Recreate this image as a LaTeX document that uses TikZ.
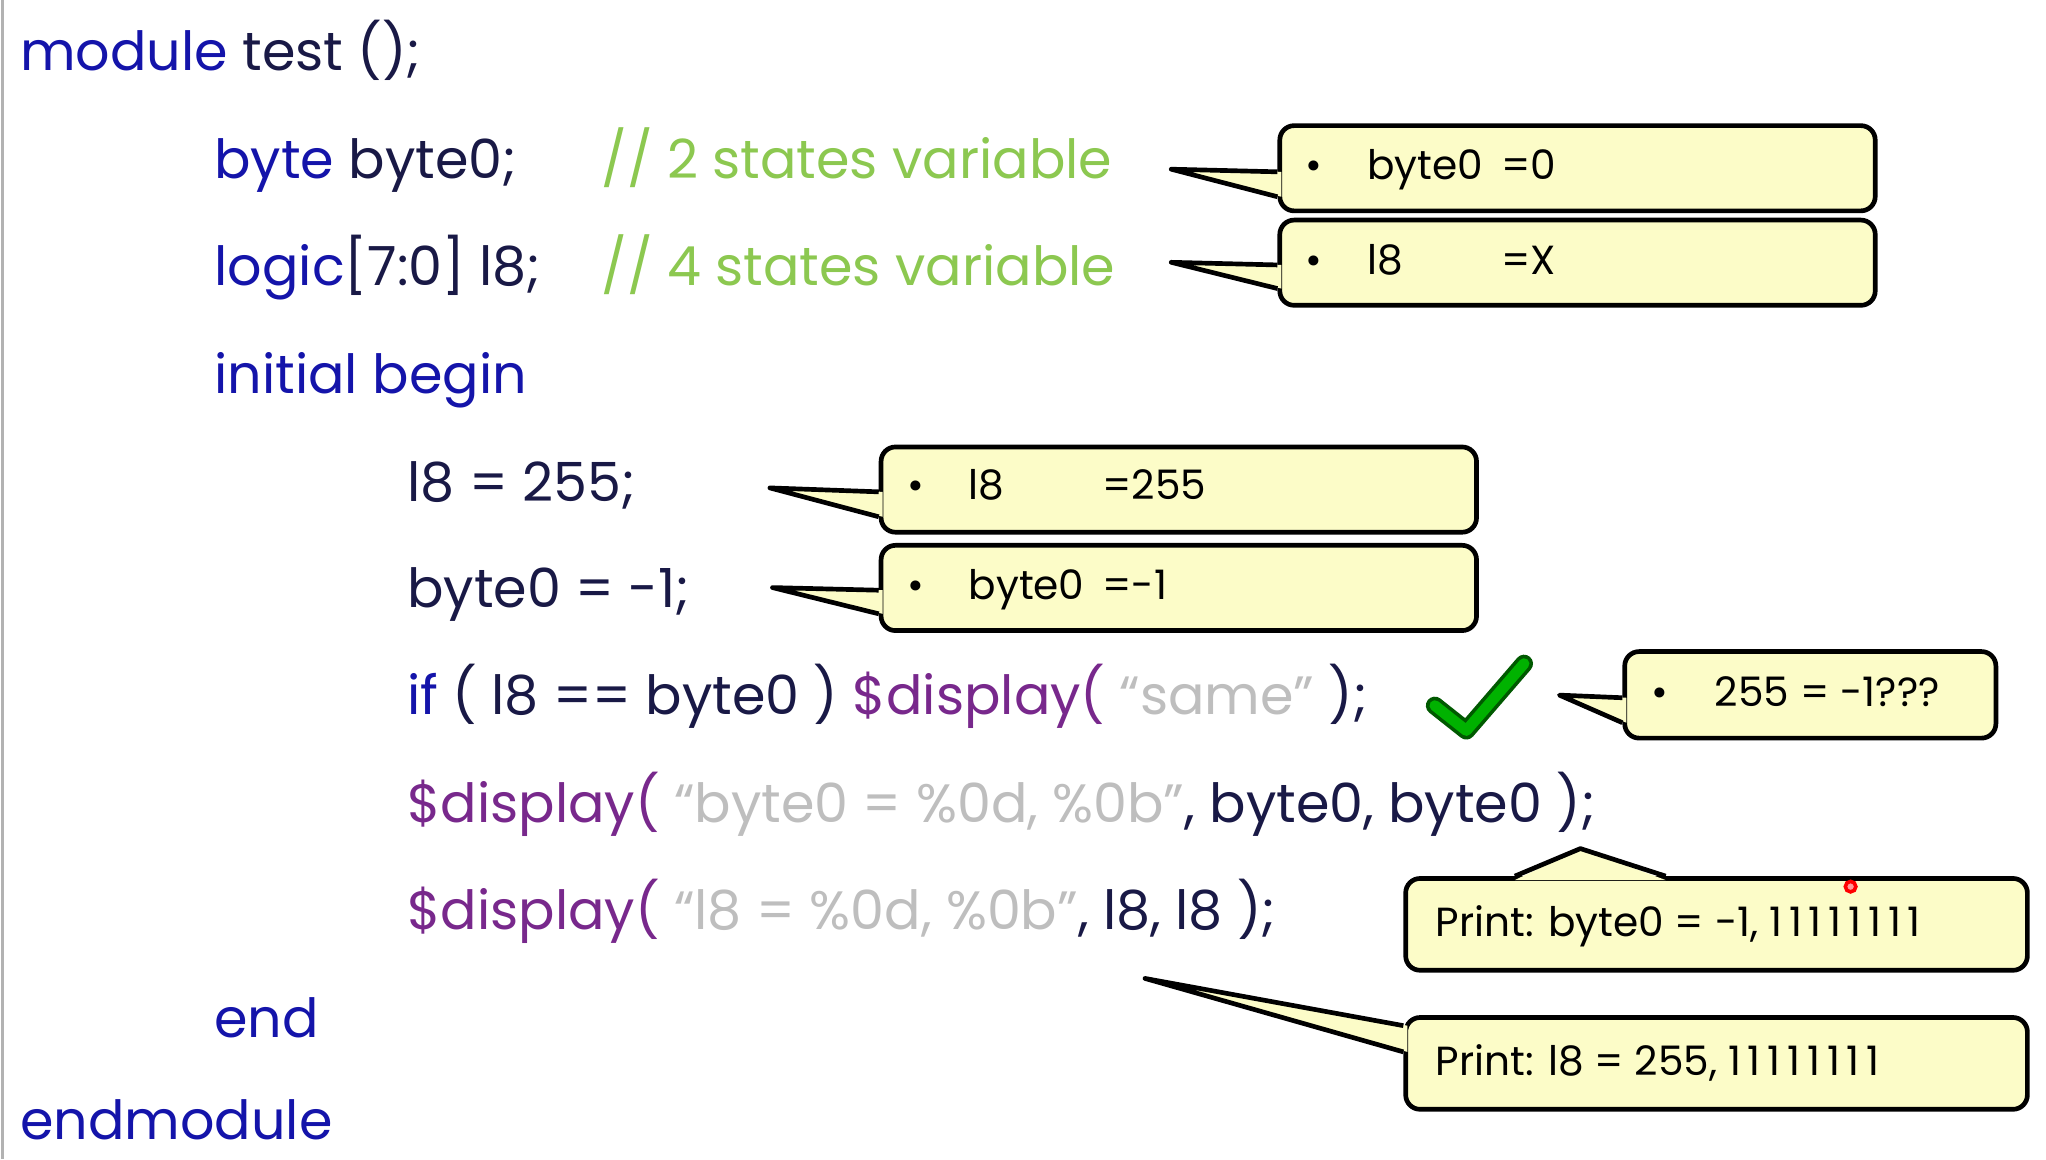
\documentclass[tikz,border=0pt]{standalone}
\usepackage{fontspec}
\setmainfont{Poppins}
\begin{document}
\begin{tikzpicture}[x=0.01282cm,y=-0.01282cm,
  code/.style={anchor=base west,inner sep=0pt,font=\fontsize{15}{18}\selectfont},
  btxt/.style={anchor=base west,inner sep=0pt,font=\fontsize{11.3}{14}\selectfont,text=black},
  cbox/.style={draw=black,line width=1.3pt,rounded corners=4pt,fill=cyel}]
\definecolor{kw}{RGB}{20,20,170}
\definecolor{nv}{RGB}{25,25,70}
\definecolor{cm}{RGB}{140,200,80}
\definecolor{pu}{RGB}{120,40,140}
\definecolor{st}{RGB}{190,190,190}
\definecolor{cyel}{RGB}{252,252,200}
\useasboundingbox (0,0) rectangle (1560,884);
\fill[white] (0,0) rectangle (1560,884);
\draw[gray!60,line width=0.8pt] (2,0) -- (2,884);
% code
\node[code] (l1) at (15,54) {\textcolor{kw}{module} \textcolor{nv}{test ();}};
\node[code] (l2) at (163,136) {\textcolor{kw}{byte} \textcolor{nv}{byte0;}};
\node[code] (c2) at (458,136) {\textcolor{cm}{// 2 states variable}};
\node[code] (l3) at (163,218) {\textcolor{kw}{logic}\textcolor{nv}{[7:0] l8;}};
\node[code] (c3) at (458,218) {\textcolor{cm}{// 4 states variable}};
\node[code] (l4) at (163,300) {\textcolor{kw}{initial begin}};
\node[code] (l5) at (310,382) {\textcolor{nv}{l8 = 255;}};
\node[code] (l6) at (310,463) {\textcolor{nv}{byte0 = -1;}};
\node[code] (l7) at (310,545) {\textcolor{kw}{if} \textcolor{nv}{( l8 == byte0 )} \textcolor{pu}{\$display(} \textcolor{st}{“same”} \textcolor{nv}{);}};
\node[code] (l8) at (310,627) {\textcolor{pu}{\$display(} \textcolor{st}{“byte0 = \%0d, \%0b”}\textcolor{nv}{, byte0, byte0 );}};
\node[code] (l9) at (310,709) {\textcolor{pu}{\$display(} \textcolor{st}{“l8 = \%0d, \%0b”}\textcolor{nv}{, l8, l8 );}};
\node[code] (l10) at (163,791) {\textcolor{kw}{end}};
\node[code] (l11) at (15,869) {\textcolor{kw}{endmodule}};
% callouts (left pointer)
\foreach \n/\xa/\ya/\xb/\yb/\tx/\ty/\ta/\tb in {
  b1/978/94/1432/159/893/129/131/150,
  b2/978/166/1432/231/893/200/202/220,
  b3/674/339/1128/404/587/372/375/394,
  b4/674/414/1128/479/589/448/450/468,
  b5/1241/495/1524/561/1189/530/532/551,
  b7/1074/774/1548/844/873/746/782/802}{
  \node[cbox,minimum width={(\xb-\xa)*0.01282cm},minimum height={(\yb-\ya)*0.01282cm},anchor=north west,inner sep=0pt] (\n) at (\xa-4,\ya) {};
  \coordinate (\n t) at (\tx,\ty);
  \fill[cyel] (\n t) -- (\xa-1,\ta) -- (\xa-1,\tb) -- cycle;
  \draw[line width=1.3pt,line join=round] (\xa-4,\ta) -- (\n t) -- (\xa-4,\tb);
}
% callout with top pointer
\node[cbox,minimum width={474*0.01282cm},minimum height={70*0.01282cm},anchor=north west,inner sep=0pt] (b6) at (1070,668) {};
\coordinate (b6t) at (1205,647);
\fill[cyel] (b6t) -- (1155,671) -- (1270,671) -- cycle;
\draw[line width=1.3pt,line join=round] (1155,668) -- (b6t) -- (1270,668);
% box texts
\node[btxt] (t1a) at (995,137) {•}; \node[btxt] (t1b) at (1042,137) {byte0}; \node[btxt] (t1c) at (1144,137) {=0};
\node[btxt] (t2a) at (995,209) {•}; \node[btxt] (t2b) at (1042,209) {l8}; \node[btxt] (t2c) at (1144,209) {=X};
\node[btxt] (t3a) at (691,381) {•}; \node[btxt] (t3b) at (738,381) {l8}; \node[btxt] (t3c) at (840,381) {=255};
\node[btxt] (t4a) at (691,457) {•}; \node[btxt] (t4b) at (738,457) {byte0}; \node[btxt] (t4c) at (840,457) {=-1};
\node[btxt] (t5a) at (1259,539) {•}; \node[btxt] (t5b) at (1307,539) {255 = -1???};
\node[btxt] (t6) at (1094,714) {Print: byte0 = -1, 1\,1\,1\,1\,1\,1\,1\,1};
\node[btxt] (t7) at (1094,820) {Print: l8 = 255, 1\,1\,1\,1\,1\,1\,1\,1};
% check mark
\draw[green!35!black,line width=5pt,line cap=round,line join=round] (1094,538) -- (1118,557) -- (1162,506);
\draw[green!70!black,line width=3pt,line cap=round,line join=round] (1094,538) -- (1118,557) -- (1162,506);
% cursor dot
\draw[red,line width=1pt,fill=red!40] (1411,676) circle (4);
\end{tikzpicture}
\end{document}
